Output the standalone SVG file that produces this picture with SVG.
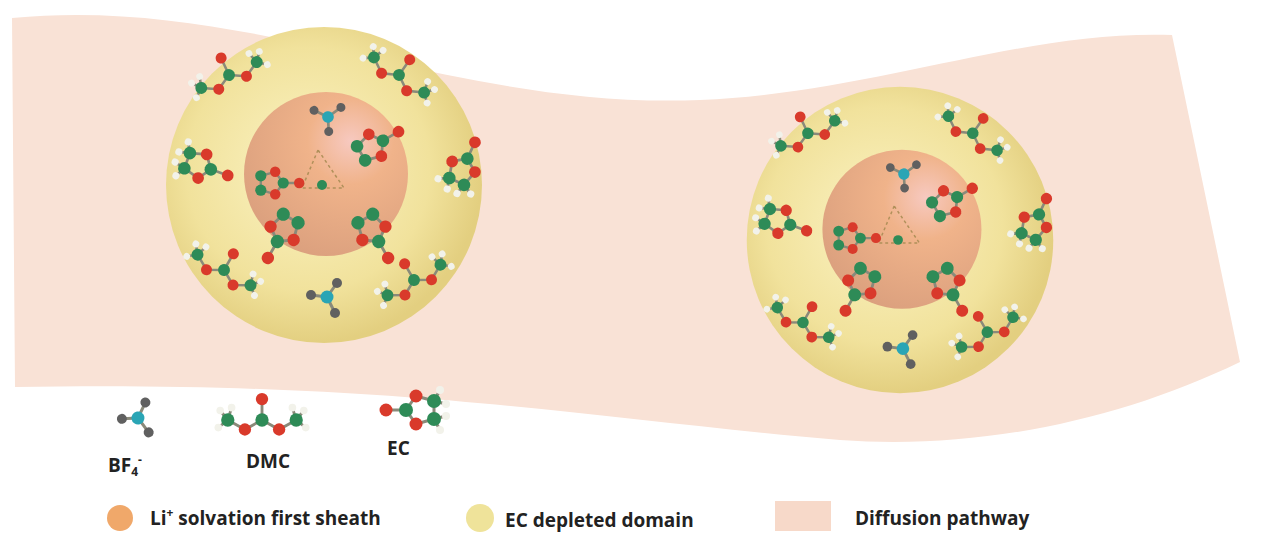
<svg xmlns="http://www.w3.org/2000/svg" xmlns:xlink="http://www.w3.org/1999/xlink" width="1261" height="539" viewBox="0 0 1261 539">
<style>
.b{stroke:#8a8a7a;stroke-width:3;fill:none}
.c{fill:#2e8b57}.o{fill:#d93a2b}.h{fill:#f2f2ea}.f{fill:#606060}.bo{fill:#2aa5b5}
.t{font-family:"Open Sans","Liberation Sans",sans-serif;font-weight:bold;font-size:19px;fill:#222}
.d{stroke:#b0905a;stroke-width:1.5;stroke-dasharray:3 3;fill:none}
</style>
<defs>
<radialGradient id="gy" cx="0.45" cy="0.45" r="0.55"><stop offset="0" stop-color="#fbf3c4"/><stop offset="0.7" stop-color="#f1e29c"/><stop offset="1" stop-color="#e3cf80"/></radialGradient>
<radialGradient id="go" cx="0.65" cy="0.3" r="0.75"><stop offset="0" stop-color="#f7c9c0"/><stop offset="0.35" stop-color="#f0b38a"/><stop offset="1" stop-color="#dba07e"/></radialGradient>
<g id="dmc">
<path class="b" d="M0,0 V-22 M0,0 L-18,10 L-36,0 M0,0 L18,10 L36,0 M-36,0 L-44,-10 M-36,0 L-46,8 M-36,0 L-32,-13 M36,0 L44,-10 M36,0 L46,8 M36,0 L32,-13"/>
<circle class="c" cx="0" cy="0" r="7"/><circle class="o" cx="0" cy="-22" r="6.5"/>
<circle class="o" cx="-18" cy="10" r="6.5"/><circle class="o" cx="18" cy="10" r="6.5"/>
<circle class="c" cx="-36" cy="0" r="7"/><circle class="c" cx="36" cy="0" r="7"/>
<circle class="h" cx="-44" cy="-10" r="4"/><circle class="h" cx="-46" cy="8" r="4"/><circle class="h" cx="-32" cy="-13" r="4"/>
<circle class="h" cx="44" cy="-10" r="4"/><circle class="h" cx="46" cy="8" r="4"/><circle class="h" cx="32" cy="-13" r="4"/>
</g>
<g id="ec">
<path class="b" d="M-14,0 L-4,-14 L14,-9 L14,9 L-4,14 Z M-14,0 H-34 M14,-9 L20,-20 M14,-9 L26,-6 M14,9 L20,20 M14,9 L26,6"/>
<circle class="o" cx="-34" cy="0" r="6.5"/><circle class="c" cx="-14" cy="0" r="7"/>
<circle class="o" cx="-4" cy="-14" r="6.5"/><circle class="o" cx="-4" cy="14" r="6.5"/>
<circle class="c" cx="14" cy="-9" r="7"/><circle class="c" cx="14" cy="9" r="7"/>
<circle class="h" cx="20" cy="-20" r="4"/><circle class="h" cx="26" cy="-6" r="4"/><circle class="h" cx="20" cy="20" r="4"/><circle class="h" cx="26" cy="6" r="4"/>
</g>
<g id="eci">
<path class="b" d="M-14,0 L-4,-14 L14,-9 L14,9 L-4,14 Z M-14,0 H-34"/>
<circle class="o" cx="-34" cy="0" r="6.5"/><circle class="c" cx="-14" cy="0" r="7"/>
<circle class="o" cx="-4" cy="-14" r="6.5"/><circle class="o" cx="-4" cy="14" r="6.5"/>
<circle class="c" cx="14" cy="-9" r="7"/><circle class="c" cx="14" cy="9" r="7"/>
</g>
<g id="bf">
<path class="b" d="M0,0 L-16,-2 M0,0 L10,-14 M0,0 L8,16"/>
<circle class="bo" cx="0" cy="0" r="6.5"/><circle class="f" cx="-16" cy="-2" r="5"/><circle class="f" cx="10" cy="-14" r="5"/><circle class="f" cx="8" cy="16" r="5"/>
</g>
<g id="sph">
<circle cx="0" cy="0" r="158" fill="url(#gy)"/>
<circle cx="2" cy="-11" r="82" fill="url(#go)"/>
<path class="d" d="M-6,-35 L-22,3 L20,3 Z"/>
<use href="#dmc" transform="translate(-95,-110) rotate(-25) scale(0.85)"/>
<use href="#dmc" transform="translate(75,-110) rotate(35) scale(0.85)"/>
<use href="#ec" transform="translate(-125,-20) rotate(200) scale(0.9)"/>
<use href="#ec" transform="translate(138,-15) rotate(115) scale(0.9)"/>
<use href="#dmc" transform="translate(-100,85) rotate(30) scale(0.85)"/>
<use href="#dmc" transform="translate(90,95) rotate(-30) scale(0.85)"/>
<use href="#bf" transform="translate(3,112)"/>
<use href="#bf" transform="translate(4,-68) rotate(-100) scale(0.9)"/>
<use href="#eci" transform="translate(-40,45) rotate(-60) scale(0.95)"/>
<use href="#eci" transform="translate(48,45) rotate(240) scale(0.95)"/>
<use href="#eci" transform="translate(48,-38) rotate(150) scale(0.9)"/>
<use href="#eci" transform="translate(-52,-2) rotate(180) scale(0.8)"/>
<circle class="c" cx="-2" cy="0" r="5"/>
</g>
</defs>
<rect width="1261" height="539" fill="#ffffff"/>
<path id="band" d="M12,18 C250,-5 450,110 700,100 C880,92 1020,30 1172,35 L1240,362 C1120,420 980,450 840,440 C600,420 400,380 15,387 Z" fill="#f9e2d6"/>
<g id="sphere1"><use href="#sph" transform="translate(324,185)"/></g>
<g id="sphere2"><use href="#sph" transform="translate(900,240) scale(0.97)"/></g>
<g id="legend">
<use href="#bf" transform="translate(138,418) rotate(-10)"/>
<use href="#dmc" transform="translate(262,420) scale(0.95)"/>
<use href="#ec" transform="translate(420,410)"/>
<text class="t" x="108" y="472">BF<tspan font-size="12" dy="4">4</tspan><tspan font-size="12" dy="-12">-</tspan></text>
<text class="t" x="246" y="468">DMC</text>
<text class="t" x="387" y="455">EC</text>
<circle cx="120" cy="518" r="13" fill="#f0a86a"/>
<text class="t" x="150" y="525">Li<tspan font-size="12" dy="-8">+</tspan><tspan dy="8"> solvation first sheath</tspan></text>
<circle cx="480" cy="518" r="14" fill="#efe39a"/>
<text class="t" x="505" y="527">EC depleted domain</text>
<rect x="775" y="501" width="56" height="30" fill="#f7d9c9"/>
<text class="t" x="855" y="525">Diffusion pathway</text>
</g>
</svg>
